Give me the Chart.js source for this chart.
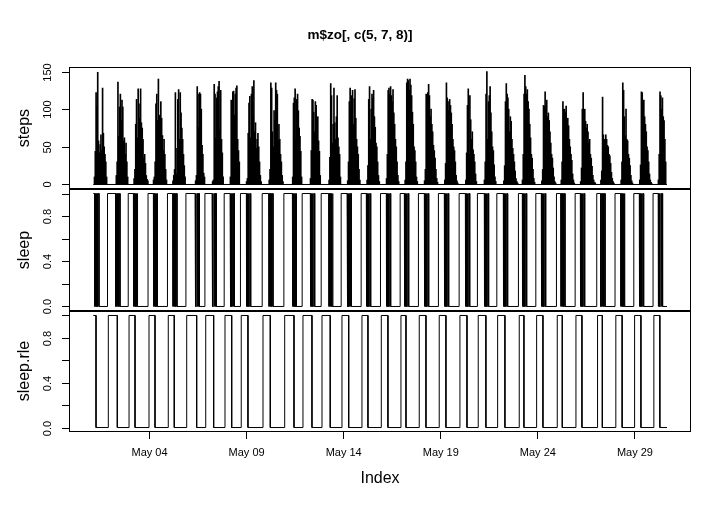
<!DOCTYPE html>
<html>
<head>
<meta charset="utf-8">
<script src="https://cdn.jsdelivr.net/npm/chart.js@4.4.1/dist/chart.umd.min.js"></script>
<style>
  body { margin: 0; background: #fff; }
  #wrap { position: relative; width: 720px; height: 514px; font-family: "Liberation Sans", Arial, sans-serif; color: #000; }
  canvas { position: absolute; left: 0; top: 0; }
  .lbl { position: absolute; white-space: nowrap; transform: translate(-50%, -50%); line-height: 1; }
  .rot { transform: translate(-50%, -50%) rotate(-90deg); }
</style>
</head>
<body>
<div id="wrap">
  <canvas id="c1" width="720" height="514"></canvas>
  <canvas id="c2" width="720" height="514"></canvas>
  <canvas id="c3" width="720" height="514"></canvas>
  <div class="lbl" style="left:360px;top:35px;font-size:13.5px;font-weight:bold">m$zo[, c(5, 7, 8)]</div>
  <div class="lbl rot" style="left:24px;top:128px;font-size:16px">steps</div>
  <div class="lbl rot" style="left:24px;top:250px;font-size:16px">sleep</div>
  <div class="lbl rot" style="left:24px;top:371px;font-size:16px">sleep.rle</div>
  <div class="lbl" style="left:380px;top:478px;font-size:16px">Index</div>
</div>
<script>
// time is in hours since May 01 00:00
const seriesStart = 2.5;
const seriesEnd = 711.6;
const xMin = -27.5, xMax = 741.3;

const xTickHours = [72, 192, 312, 432, 552, 672];
const xTickLabels = ['May 04', 'May 09', 'May 14', 'May 19', 'May 24', 'May 29'];

const stepsTicks = [0, 50, 100, 150];
const stepsTickLabels = ['0', '50', '100', '150'];
const sleepTicks = [0, 0.2, 0.4, 0.6, 0.8, 1.0];
const sleepTickLabels = ['0.0', '', '0.4', '', '0.8', ''];

// first hour of each day's activity, then hourly step counts
const stepsStart = [4, 31, 53, 77, 101, 129, 150, 172, 192, 220, 249, 271, 294, 317, 341,
  365, 388, 412, 437, 463, 486, 510, 533, 557, 581, 605, 630, 655, 678, 701];
const stepsByDay = [
  [10, 44, 122, 104, 149, 58, 42, 53, 66, 45, 128, 68, 50, 40, 30, 10],
  [12, 30, 136, 64, 103, 120, 85, 112, 103, 58, 62, 40, 55, 30, 10],
  [8, 20, 80, 113, 62, 127, 107, 88, 127, 82, 75, 60, 35, 40, 28, 12, 7, 5],
  [6, 10, 30, 107, 120, 85, 140, 92, 90, 110, 88, 65, 45, 60, 40, 20, 6],
  [5, 12, 20, 122, 14, 48, 113, 126, 60, 122, 95, 75, 60, 40, 25, 10],
  [5, 12, 130, 120, 76, 122, 120, 100, 52, 40, 15, 10],
  [4, 6, 133, 120, 62, 115, 123, 130, 137, 72, 125, 60, 42, 10],
  [10, 112, 100, 123, 124, 92, 120, 128, 131, 60, 45, 30],
  [4, 8, 68, 108, 117, 62, 120, 130, 92, 138, 70, 82, 48, 60, 68, 50, 30, 12, 4],
  [6, 20, 135, 128, 70, 50, 98, 85, 135, 125, 120, 58, 80, 60, 40, 30, 12, 4],
  [10, 108, 115, 127, 60, 113, 120, 98, 75, 64, 44, 10],
  [8, 45, 113, 112, 96, 70, 110, 105, 65, 90, 58, 44, 12],
  [6, 36, 134, 118, 55, 80, 128, 82, 60, 90, 118, 62, 50, 40, 10],
  [5, 30, 110, 128, 100, 118, 125, 80, 114, 126, 88, 60, 50, 40, 20, 6],
  [6, 25, 113, 130, 60, 100, 120, 115, 125, 90, 76, 55, 50, 30, 12, 4],
  [8, 40, 125, 128, 120, 130, 118, 110, 126, 95, 80, 60, 50, 30, 12, 4],
  [6, 30, 135, 140, 138, 125, 140, 132, 118, 96, 80, 50, 45, 30, 10, 4],
  [5, 20, 120, 80, 122, 133, 118, 90, 100, 80, 70, 52, 45, 35, 20, 8, 3],
  [6, 28, 135, 115, 110, 98, 113, 105, 95, 80, 60, 50, 45, 30, 12, 5, 2],
  [6, 42, 105, 127, 40, 118, 86, 60, 70, 46, 40, 30, 14, 4],
  [6, 30, 120, 150, 60, 110, 118, 130, 95, 70, 50, 45, 26, 10, 4],
  [5, 25, 110, 134, 120, 115, 100, 70, 90, 84, 60, 48, 40, 30, 18, 8, 4, 2],
  [6, 40, 120, 145, 130, 120, 126, 110, 100, 80, 62, 40, 35, 20, 8, 3],
  [5, 20, 105, 104, 123, 100, 112, 90, 95, 85, 70, 55, 40, 35, 22, 10, 4, 2],
  [6, 30, 110, 100, 100, 96, 104, 70, 88, 78, 60, 50, 40, 32, 14, 6, 2],
  [4, 22, 100, 122, 65, 100, 84, 75, 80, 70, 55, 60, 40, 35, 24, 12, 6, 3, 2],
  [6, 18, 116, 66, 60, 58, 66, 60, 52, 50, 40, 38, 28, 16, 8, 4, 2],
  [6, 30, 135, 125, 90, 65, 100, 60, 58, 40, 35, 25, 12, 5, 2],
  [6, 26, 123, 122, 100, 112, 90, 80, 70, 50, 45, 30, 14, 6, 3, 1],
  [6, 40, 123, 118, 100, 115, 90, 85, 60, 30]
];

// raw sleep flag: on/off hour pairs per night (restless end of each night)
const sleepSpans = [
  [2.5, 4.3, 4.7, 5.2, 5.6, 6.1, 6.4, 7.0, 7.3, 8.0, 8.4, 9.6],
  [20.1, 30.2, 30.6, 31.2, 31.6, 32.2, 32.6, 33.2, 33.6, 34.2, 34.7, 35.6],
  [45.7, 52.1, 52.5, 53.1, 53.5, 54.1, 54.5, 55.1, 55.5, 56.1, 56.6, 57.5],
  [70.2, 76.8, 77.2, 77.8, 78.2, 78.8, 79.2, 79.8, 80.2, 80.8, 81.3, 82.2],
  [94.2, 100.6, 101.0, 101.6, 102.0, 102.6, 103.0, 103.6, 104.0, 104.6, 105.1, 106.0],
  [117.0, 128.3, 128.7, 129.3, 129.7, 130.3, 130.7, 131.3, 131.7, 132.3, 132.8, 133.7],
  [140.5, 149.3, 149.7, 150.3, 150.7, 151.3, 151.7, 152.3, 152.7, 153.3, 153.8, 154.7],
  [164.3, 171.6, 172.0, 172.6, 173.0, 173.6, 174.0, 174.6, 175.0, 175.6, 176.1, 177.0],
  [184.4, 191.7, 192.1, 192.7, 193.1, 193.7, 194.1, 194.7, 195.1, 195.7, 196.2, 197.1],
  [211.3, 219.3, 219.7, 220.3, 220.7, 221.3, 221.7, 222.3, 222.7, 223.3, 223.8, 224.7],
  [238.1, 248.6, 249.0, 249.6, 250.0, 250.6, 251.0, 251.6, 252.0, 252.6, 253.1, 254.0],
  [260.7, 270.8, 271.2, 271.8, 272.2, 272.8, 273.2, 273.8, 274.2, 274.8, 275.3, 276.2],
  [284.2, 293.4, 293.8, 294.4, 294.8, 295.4, 295.8, 296.4, 296.8, 297.4, 297.9, 298.8],
  [308.9, 316.2, 316.6, 317.2, 317.6, 318.2, 318.6, 319.2, 319.6, 320.2, 320.7, 321.6],
  [333.6, 340.0, 340.4, 341.0, 341.4, 342.0, 342.4, 343.0, 343.4, 344.0, 344.5, 345.4],
  [357.5, 364.7, 365.1, 365.7, 366.1, 366.7, 367.1, 367.7, 368.1, 368.7, 369.2, 370.1],
  [381.8, 387.0, 387.4, 388.0, 388.4, 389.0, 389.4, 390.0, 390.4, 391.0, 391.5, 392.4],
  [404.4, 411.7, 412.1, 412.7, 413.1, 413.7, 414.1, 414.7, 415.1, 415.7, 416.2, 417.1],
  [429.1, 436.4, 436.8, 437.4, 437.8, 438.4, 438.8, 439.4, 439.8, 440.4, 440.9, 441.8],
  [454.7, 462.4, 462.8, 463.4, 463.8, 464.4, 464.8, 465.4, 465.8, 466.4, 466.9, 467.8],
  [477.3, 485.8, 486.2, 486.8, 487.2, 487.8, 488.2, 488.8, 489.2, 489.8, 490.3, 491.2],
  [501.3, 509.3, 509.7, 510.3, 510.7, 511.3, 511.7, 512.3, 512.7, 513.3, 513.8, 514.7],
  [528.0, 532.8, 533.2, 533.8, 534.2, 534.8, 535.2, 535.8, 536.2, 536.8, 537.3, 538.2],
  [549.5, 556.3, 556.7, 557.3, 557.7, 558.3, 558.7, 559.3, 559.7, 560.3, 560.8, 561.7],
  [575.0, 580.2, 580.6, 581.2, 581.6, 582.2, 582.6, 583.2, 583.6, 584.2, 584.7, 585.6],
  [598.1, 604.5, 604.9, 605.5, 605.9, 606.5, 606.9, 607.5, 607.9, 608.5, 609.0, 609.9],
  [624.8, 629.7, 630.1, 630.7, 631.1, 631.7, 632.1, 632.7, 633.1, 633.7, 634.2, 635.1],
  [647.4, 654.2, 654.6, 655.2, 655.6, 656.2, 656.6, 657.2, 657.6, 658.2, 658.7, 659.6],
  [670.6, 677.4, 677.8, 678.4, 678.8, 679.4, 679.8, 680.4, 680.8, 681.4, 681.9, 682.8],
  [694.4, 700.8, 701.2, 701.8, 702.2, 702.8, 703.2, 703.8, 704.2, 704.8, 705.3, 706.2]
];

// run-length smoothed sleep: one block per night
const rleOn = [2.5, 21.1, 46.7, 71.4, 95.2, 118.0, 141.5, 165.3, 185.4, 212.3, 239.1, 261.7, 285.2, 309.9, 334.6,
  358.5, 382.8, 405.4, 430.1, 455.7, 478.3, 502.3, 529.0, 550.5, 576.0, 599.1, 625.8, 648.4, 671.6, 695.4];
const rleOff = [5.9, 32.2, 54.1, 78.8, 102.6, 130.3, 151.3, 173.6, 193.7, 221.3, 250.6, 272.8, 295.4, 318.2, 342.0,
  366.7, 389.0, 413.7, 438.4, 464.4, 487.8, 511.3, 534.8, 558.3, 582.2, 606.5, 631.7, 656.2, 679.4, 702.8];

const FONT = '"Liberation Sans", Arial, sans-serif';

// square wave points from on/off pairs
function pulses(pairs) {
  const pts = [];
  pairs.forEach(([on, off]) => {
    if (pts.length) pts.push({ x: on, y: 0 });
    pts.push({ x: on, y: 1 }, { x: off, y: 1 }, { x: off, y: 0 });
  });
  pts.push({ x: seriesEnd, y: 0 });
  return pts;
}

const stepPoints = [];
stepsByDay.forEach((vals, i) => {
  vals.forEach((v, k) => stepPoints.push({ x: stepsStart[i] + k, y: v }));
});

const sleepPairs = [];
sleepSpans.forEach(row => {
  for (let k = 0; k < row.length; k += 2) sleepPairs.push([row[k], row[k + 1]]);
});
const rlePairs = rleOn.map((on, i) => [on, rleOff[i]]);

// box around the panel plus R-style rotated y tick labels
const framePlugin = {
  id: 'frame',
  afterDraw(chart, args, opts) {
    const { ctx, chartArea: a } = chart;
    const y = chart.scales.y;
    ctx.save();
    ctx.strokeStyle = '#000';
    ctx.lineWidth = 1;
    ctx.strokeRect(a.left + 0.5, a.top + 0.5, a.right - a.left - 1, a.bottom - a.top - 1);
    ctx.fillStyle = '#000';
    ctx.font = '11px ' + FONT;
    ctx.textAlign = 'center';
    ctx.textBaseline = 'middle';
    opts.ticks.forEach((v, i) => {
      const py = Math.round(y.getPixelForValue(v)) + 0.5;
      ctx.beginPath();
      ctx.moveTo(a.left - 7, py);
      ctx.lineTo(a.left, py);
      ctx.stroke();
      if (opts.labels[i]) {
        ctx.save();
        ctx.translate(48, py);
        ctx.rotate(-Math.PI / 2);
        ctx.fillText(opts.labels[i], 0, 0);
        ctx.restore();
      }
    });
    ctx.restore();
  }
};

function baseOptions(top, bottom, yMin, yMax, ticks, labels) {
  return {
    responsive: false,
    animation: false,
    events: [],
    layout: { padding: { left: 69, right: 29, top: top, bottom: bottom } },
    scales: {
      x: { type: 'linear', min: xMin, max: xMax, offset: false, display: false },
      y: { min: yMin, max: yMax, display: false }
    },
    plugins: {
      legend: { display: false },
      tooltip: { enabled: false },
      frame: { ticks: ticks, labels: labels }
    }
  };
}

// steps panel
new Chart(document.getElementById('c1'), {
  type: 'bar',
  data: {
    datasets: [
      { type: 'line', data: [{ x: seriesStart, y: 0 }, { x: seriesEnd, y: 0 }],
        borderColor: '#000', borderWidth: 1, pointRadius: 0 },
      { data: stepPoints, backgroundColor: '#000', barThickness: 1, grouped: false }
    ]
  },
  options: baseOptions(67, 325, -6, 156, stepsTicks, stepsTickLabels),
  plugins: [framePlugin]
});

// sleep panel
new Chart(document.getElementById('c2'), {
  type: 'line',
  data: { datasets: [{ data: pulses(sleepPairs), borderColor: '#000', borderWidth: 1, pointRadius: 0 }] },
  options: baseOptions(189, 203, -0.04, 1.04, sleepTicks, sleepTickLabels),
  plugins: [framePlugin]
});

// sleep.rle panel with the date axis
const opt3 = baseOptions(311, 42, -0.04, 1.04, sleepTicks, sleepTickLabels);
opt3.scales.x = {
  type: 'linear', min: xMin, max: xMax, offset: false, position: 'bottom',
  afterBuildTicks: s => { s.ticks = xTickHours.map(v => ({ value: v })); },
  afterFit: s => { s.height = 40; },
  grid: { drawOnChartArea: false, drawTicks: true, tickLength: 7, color: '#000' },
  border: { display: false },
  ticks: {
    color: '#000', font: { size: 11, family: FONT }, padding: 7,
    maxRotation: 0, autoSkip: false,
    callback: v => xTickLabels[xTickHours.indexOf(v)]
  }
};
new Chart(document.getElementById('c3'), {
  type: 'line',
  data: { datasets: [{ data: pulses(rlePairs), borderColor: '#000', borderWidth: 1, pointRadius: 0 }] },
  options: opt3,
  plugins: [framePlugin]
});
</script>
</body>
</html>
